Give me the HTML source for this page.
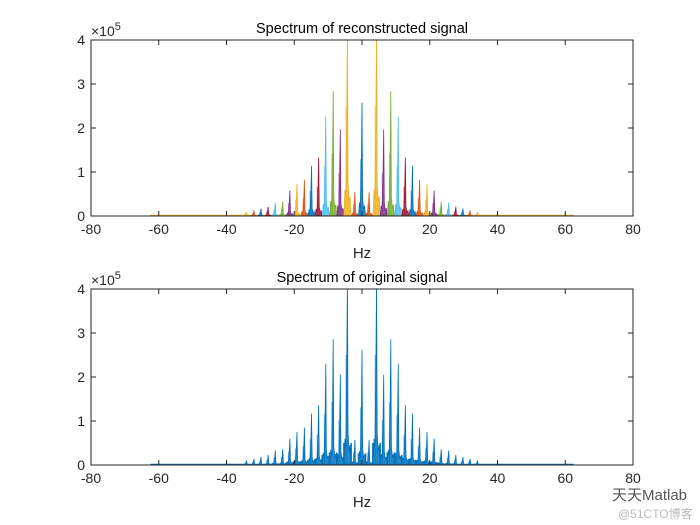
<!DOCTYPE html>
<html><head><meta charset="utf-8">
<style>
html,body{margin:0;padding:0;background:#fff;}
svg{display:block;font-family:"Liberation Sans",Arial,sans-serif;}
</style></head>
<body>
<svg id="fig" width="700" height="525" viewBox="0 0 700 525">
  <rect width="700" height="525" fill="#fff"/>
  <g id="top"></g>
  <g id="bot"></g>
  <text x="612" y="500" font-size="15" fill="#555" font-family="'Liberation Sans','Noto Sans CJK SC',sans-serif">天天Matlab</text>
  <text x="618" y="518" font-size="12" fill="#bbb" font-family="'Liberation Sans','Noto Sans CJK SC',sans-serif">@51CTO博客</text>
</svg>
<script>
const harmonicFreqs = [-34.1,-31.9,-29.8,-27.7,-25.6,-23.4,-21.3,-19.2,-17.0,-14.9,-12.8,-10.7,-8.5,-6.4,-4.3,-2.1,0,2.1,4.3,6.4,8.5,10.7,12.8,14.9,17.0,19.2,21.3,23.4,25.6,27.7,29.8,31.9,34.1];
const harmonicOrder = [16,15,14,13,12,11,10,9,8,7,6,5,4,3,2,1,0,1,2,3,4,5,6,7,8,9,10,11,12,13,14,15,16];
const reconPeaks = [0.09,0.13,0.17,0.21,0.31,0.33,0.58,0.73,0.82,1.14,1.33,2.26,2.84,1.97,5.0,0.54,2.58,0.54,5.0,1.97,2.84,2.26,1.33,1.14,0.82,0.73,0.58,0.33,0.31,0.21,0.17,0.13,0.09];
const origPeaks = [0.10,0.14,0.18,0.23,0.33,0.36,0.60,0.75,0.85,1.17,1.36,2.30,2.86,2.05,5.0,0.57,2.62,0.57,5.0,2.05,2.86,2.30,1.36,1.17,0.85,0.75,0.60,0.36,0.33,0.23,0.18,0.14,0.10];
const xTicks = [-80,-60,-40,-20,0,20,40,60,80];
const yTicks = [0,1,2,3,4];
const colors = ['#0072BD','#D95319','#EDB120','#7E2F8E','#77AC30','#4DBEEE','#A2142F'];
</script>
<script>
const NS='http://www.w3.org/2000/svg';
function mk(p,t,a){const e=document.createElementNS(NS,t);for(const k in a)e.setAttribute(k,a[k]);p.appendChild(e);return e;}
function drawAxes(g,top,title,peaks,multi){
  const L=91,R=633,T=top,B=top+176;
  const xs=v=>L+(v+80)/160*(R-L);
  const ys=v=>B-Math.min(v,4.3)/4*(B-T);
  const clip='c'+top;
  const cp=mk(mk(g,'defs',{}),'clipPath',{id:clip});mk(cp,'rect',{x:L,y:T,width:R-L,height:B-T});
  const plot=mk(g,'g',{'clip-path':'url(#'+clip+')'});
  
  
  const fl=mk(plot,'line',{x1:xs(-62.5),x2:xs(62.5),y1:B-0.6,y2:B-0.6,stroke:multi?'#EDB120':'#0072BD','stroke-width':1.2});
  
  
  for(let i=0;i<harmonicFreqs.length;i++){
    const f=harmonicFreqs[i],v=peaks[i];
    const c=multi?colors[harmonicOrder[i]%7]:'#0072BD';
    const x=xs(f),base=B,yp=ys(v);
    const hump=Math.max(v*0.3,0.04);
    const d='M'+(x-3.5)+','+base+' L'+(x-2.5)+','+ys(hump*0.4)+' L'+(x-1.6)+','+ys(hump*0.25)+' L'+(x-0.6)+','+ys(v*0.5)+' L'+x+','+yp+' L'+(x+0.6)+','+ys(hump*0.5)+' L'+(x+1.6)+','+ys(hump*0.2)+' L'+(x+2.6)+','+ys(hump*0.3)+' L'+(x+3.5)+','+base+' Z';
    const p=mk(plot,'path',{d:d,fill:c,'fill-opacity':0.85,stroke:c,'stroke-width':0.8});
    
    
    const s=mk(plot,'line',{x1:x-1.4,x2:x-1.4,y1:base,y2:ys(v*0.5),stroke:c,'stroke-opacity':0.5,'stroke-width':1});
    
    
  }
  if(!multi){
    for(let i=0;i<harmonicFreqs.length-1;i++){
      const x=xs((harmonicFreqs[i]+harmonicFreqs[i+1])/2);
      const h=Math.max(peaks[i],peaks[i+1])*0.1;
      const sp=mk(plot,'line',{x1:x,x2:x,y1:B,y2:ys(h),stroke:'#0072BD','stroke-width':1.5});
      
      
    }
  }
  const box=mk(g,'rect',{x:L,y:T,width:R-L,height:B-T,fill:'none',stroke:'#262626','stroke-width':1});
  
  
  for(const t of xTicks){
    const x=xs(t);
    mk(g,'line',{x1:x,x2:x,y1:B,y2:B-5,stroke:'#262626'});
    mk(g,'line',{x1:x,x2:x,y1:T,y2:T+5,stroke:'#262626'});
    const tx=mk(g,'text',{x:x,y:B+18,'font-size':14,'text-anchor':'middle',fill:'#262626'});tx.textContent=t;
    
    
  }
  for(const t of yTicks){
    const y=ys(t);
    mk(g,'line',{x1:L,x2:L+5,y1:y,y2:y,stroke:'#262626'});
    mk(g,'line',{x1:R,x2:R-5,y1:y,y2:y,stroke:'#262626'});
    const tx=mk(g,'text',{x:L-6,y:y+5,'font-size':14,'text-anchor':'end',fill:'#262626'});tx.textContent=t;
    
    
  }
  const ex=mk(g,'text',{x:L,y:T-4,'font-size':14,fill:'#262626'});
  ex.innerHTML='×10<tspan dy="-6" font-size="11">5</tspan>';
  
  
  const ti=mk(g,'text',{x:(L+R)/2,y:T-7,'font-size':14.5,'text-anchor':'middle',fill:'#000'});ti.textContent=title;
  
  
  const xl=mk(g,'text',{x:(L+R)/2,y:B+42,'font-size':15,'text-anchor':'middle',fill:'#262626'});xl.textContent='Hz';
  
  
}
drawAxes(document.getElementById('top'),40,'Spectrum of reconstructed signal',reconPeaks,true);
drawAxes(document.getElementById('bot'),289,'Spectrum of original signal',origPeaks,false);
</script>
</body></html>
